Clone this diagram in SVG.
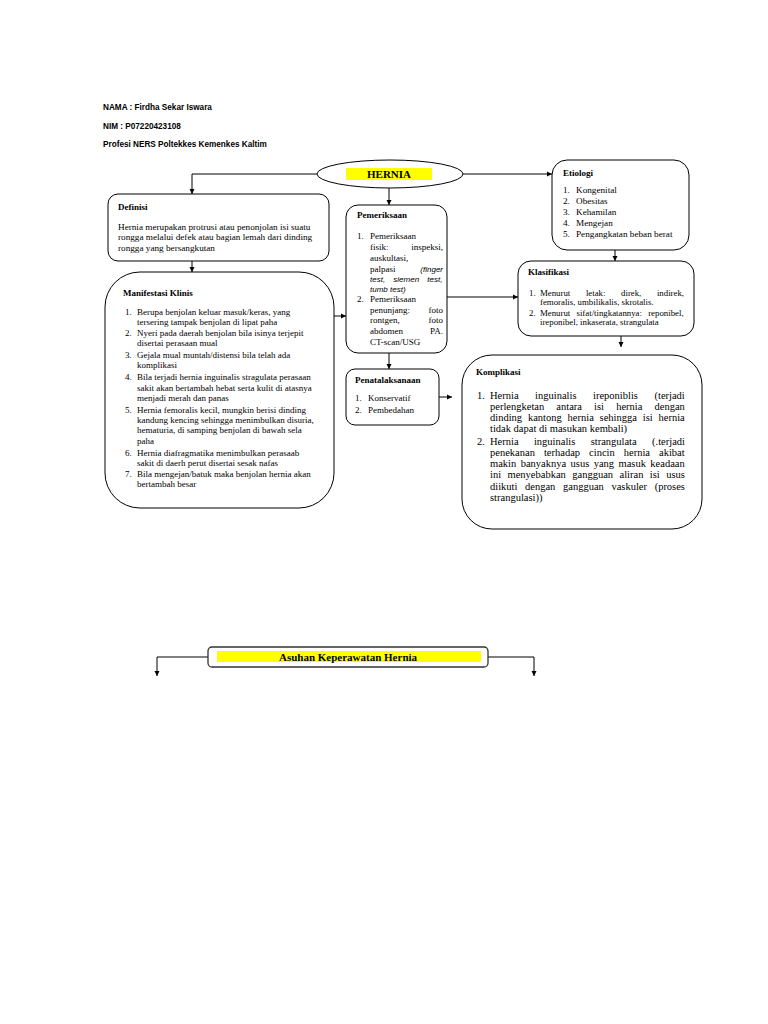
<svg xmlns="http://www.w3.org/2000/svg" width="768" height="1024" viewBox="0 0 768 1024">
<style>
.box{fill:#fff;stroke:#000;stroke-width:1}
.t{font-family:"Liberation Serif","Times New Roman",serif;font-size:9px;fill:#000}
.h{font-weight:bold}
.hd{font-family:"Liberation Sans",Arial,sans-serif;font-weight:bold;font-size:8.2px;fill:#000}
.it{font-family:"Liberation Sans",Arial,sans-serif;font-style:italic;font-size:8px;fill:#000}
.k{font-size:10.5px}
.c{font-size:8.8px}
.conn{fill:none;stroke:#000;stroke-width:1}
</style>
<defs>
<marker id="ar" markerWidth="6" markerHeight="6" refX="5" refY="3" orient="auto" markerUnits="userSpaceOnUse">
<path d="M0,0.5 L5,3 L0,5.5 Z" fill="#000"/>
</marker>
</defs>
<rect width="768" height="1024" fill="#fff"/>

<g id="header">
<text class="hd" x="103" y="110">NAMA : Firdha Sekar Iswara</text>
<text class="hd" x="103" y="129">NIM : P07220423108</text>
<text class="hd" x="103" y="147">Profesi NERS Poltekkes Kemenkes Kaltim</text>
</g>

<g id="connectors">
<path class="conn" d="M317,174 H192 V194" marker-end="url(#ar)"/>
<path class="conn" d="M389,188 V205" marker-end="url(#ar)"/>
<path class="conn" d="M463,174 H552" marker-end="url(#ar)"/>
<path class="conn" d="M192,261 V272" marker-end="url(#ar)"/>
<path class="conn" d="M334,316 H346" marker-end="url(#ar)"/>
<path class="conn" d="M447,297 H518" marker-end="url(#ar)"/>
<path class="conn" d="M615,250 V261" marker-end="url(#ar)"/>
<path class="conn" d="M621,336 V347" marker-end="url(#ar)"/>
<path class="conn" d="M389,353 V369" marker-end="url(#ar)"/>
<path class="conn" d="M439,397 H452" marker-end="url(#ar)"/>
<path class="conn" d="M208,657 H157 V676" marker-end="url(#ar)"/>
<path class="conn" d="M488,657 H534 V676" marker-end="url(#ar)"/>
</g>

<g id="hernia">
<ellipse class="box" cx="390" cy="174" rx="73" ry="14"/>
<rect x="346" y="168" width="86" height="12" fill="#ffff00"/>
<text class="t h" x="389" y="178" text-anchor="middle" style="font-size:11px">HERNIA</text>
</g>

<g id="definisi">
<rect class="box" x="108" y="194" width="221" height="67" rx="10"/>
<text class="t h" x="118" y="210">Definisi</text>
<text class="t" x="118" y="230" style="font-size:9.2px">Hernia merupakan protrusi atau penonjolan isi suatu</text>
<text class="t" x="118" y="240" style="font-size:9.2px">rongga melalui defek atau bagian lemah dari dinding</text>
<text class="t" x="118" y="251" style="font-size:9.2px">rongga yang bersangkutan</text>
</g>

<g id="manifestasi">
<rect class="box" x="105" y="272" width="229" height="236" rx="35"/>
<text class="t h" x="123" y="296">Manifestasi Klinis</text>
<text class="t" x="125" y="315">1.</text><text class="t" x="137" y="315">Berupa benjolan keluar masuk/keras, yang</text>
<text class="t" x="137" y="325">tersering tampak benjolan di lipat paha</text>
<text class="t" x="125" y="336">2.</text><text class="t" x="137" y="336">Nyeri pada daerah benjolan bila isinya terjepit</text>
<text class="t" x="137" y="346">disertai perasaan mual</text>
<text class="t" x="125" y="358">3.</text><text class="t" x="137" y="358">Gejala mual muntah/distensi bila telah ada</text>
<text class="t" x="137" y="368">komplikasi</text>
<text class="t" x="125" y="380">4.</text><text class="t" x="137" y="380">Bila terjadi hernia inguinalis stragulata perasaan</text>
<text class="t" x="137" y="391">sakit akan bertambah hebat serta kulit di atasnya</text>
<text class="t" x="137" y="401">menjadi merah dan panas</text>
<text class="t" x="125" y="413">5.</text><text class="t" x="137" y="413">Hernia femoralis kecil, mungkin berisi dinding</text>
<text class="t" x="137" y="423">kandung kencing sehingga menimbulkan disuria,</text>
<text class="t" x="137" y="433">hematuria, di samping benjolan di bawah sela</text>
<text class="t" x="137" y="444">paha</text>
<text class="t" x="125" y="456">6.</text><text class="t" x="137" y="456">Hernia diafragmatika menimbulkan perasaab</text>
<text class="t" x="137" y="466">sakit di daerh perut disertai sesak nafas</text>
<text class="t" x="125" y="477">7.</text><text class="t" x="137" y="477">Bila mengejan/batuk maka benjolan hernia akan</text>
<text class="t" x="137" y="487">bertambah besar</text>
</g>

<g id="pemeriksaan">
<rect class="box" x="346" y="205" width="101" height="148" rx="12"/>
<text class="t h" x="357" y="218">Pemeriksaan</text>
<text class="t" x="357" y="239">1.</text><text class="t" x="370" y="239">Pemeriksaan</text>
<text class="t" x="370" y="250">fisik:</text><text class="t" x="443" y="250" text-anchor="end">inspeksi,</text>
<text class="t" x="370" y="261">auskultasi,</text>
<text class="t" x="370" y="272">palpasi</text><text class="it" x="443" y="272" text-anchor="end">(finger</text>
<text class="it" x="370" y="282" word-spacing="6">test, siemen test,</text>
<text class="it" x="370" y="292">tumb test)</text>
<text class="t" x="357" y="302">2.</text><text class="t" x="370" y="302">Pemeriksaan</text>
<text class="t" x="370" y="313">penunjang:</text><text class="t" x="443" y="313" text-anchor="end">foto</text>
<text class="t" x="370" y="323">rontgen,</text><text class="t" x="443" y="323" text-anchor="end">foto</text>
<text class="t" x="370" y="334">abdomen</text><text class="t" x="443" y="334" text-anchor="end">PA.</text>
<text class="t" x="370" y="345">CT-scan/USG</text>
</g>

<g id="etiologi">
<rect class="box" x="552" y="160" width="137" height="90" rx="15"/>
<text class="t h" x="563" y="176">Etiologi</text>
<text class="t" x="563" y="193" style="font-size:9.2px">1.</text><text class="t" x="576" y="193" style="font-size:9.2px">Kongenital</text>
<text class="t" x="563" y="204" style="font-size:9.2px">2.</text><text class="t" x="576" y="204" style="font-size:9.2px">Obesitas</text>
<text class="t" x="563" y="215" style="font-size:9.2px">3.</text><text class="t" x="576" y="215" style="font-size:9.2px">Kehamilan</text>
<text class="t" x="563" y="226" style="font-size:9.2px">4.</text><text class="t" x="576" y="226" style="font-size:9.2px">Mengejan</text>
<text class="t" x="563" y="237" style="font-size:9.2px">5.</text><text class="t" x="576" y="237" style="font-size:9.2px">Pengangkatan beban berat</text>
</g>

<g id="klasifikasi">
<rect class="box" x="518" y="261" width="176" height="75" rx="13"/>
<text class="t h" x="528" y="275">Klasifikasi</text>
<text class="t c" x="529" y="296">1.</text><text class="t c" x="540" y="296" word-spacing="13.4">Menurut letak: direk, indirek,</text>
<text class="t c" x="540" y="305">femoralis, umbilikalis, skrotalis.</text>
<text class="t c" x="529" y="316">2.</text><text class="t c" x="540" y="316" word-spacing="4">Menurut sifat/tingkatannya: reponibel,</text>
<text class="t c" x="540" y="325">ireponibel, inkaserata, strangulata</text>
</g>

<g id="penatalaksanaan">
<rect class="box" x="346" y="369" width="93" height="56" rx="9"/>
<text class="t h" x="355" y="383">Penatalaksanaan</text>
<text class="t" x="355" y="401">1.</text><text class="t" x="368" y="401">Konservatif</text>
<text class="t" x="355" y="413">2.</text><text class="t" x="368" y="413">Pembedahan</text>
</g>

<g id="komplikasi">
<rect class="box" x="462" y="355" width="240" height="174" rx="30"/>
<text class="t h" x="476" y="375">Komplikasi</text>
<text class="t k" x="477" y="399">1.</text><text class="t k" x="490" y="399" word-spacing="13.9">Hernia inguinalis ireponiblis (terjadi</text>
<text class="t k" x="490" y="410" word-spacing="9.5">perlengketan antara isi hernia dengan</text>
<text class="t k" x="490" y="421" word-spacing="3.2">dinding kantong hernia sehingga isi hernia</text>
<text class="t k" x="490" y="432">tidak dapat di masukan kembali)</text>
<text class="t k" x="477" y="445">2.</text><text class="t k" x="490" y="445" word-spacing="12.7">Hernia inguinalis strangulata (.terjadi</text>
<text class="t k" x="490" y="456" word-spacing="6.4">penekanan terhadap cincin hernia akibat</text>
<text class="t k" x="490" y="467" word-spacing="1.8">makin banyaknya usus yang masuk keadaan</text>
<text class="t k" x="490" y="478" word-spacing="3.8">ini menyebabkan gangguan aliran isi usus</text>
<text class="t k" x="490" y="490" word-spacing="5">diikuti dengan gangguan vaskuler (proses</text>
<text class="t k" x="490" y="501">strangulasi))</text>
</g>

<g id="asuhan">
<rect class="box" x="208" y="647" width="280" height="20" rx="4" style="stroke:#333;stroke-width:1.3"/>
<rect x="217" y="651" width="264" height="11" fill="#ffff00"/>
<text class="t h" x="348" y="661" text-anchor="middle" style="font-size:11px">Asuhan Keperawatan Hernia</text>
</g>
</svg>
